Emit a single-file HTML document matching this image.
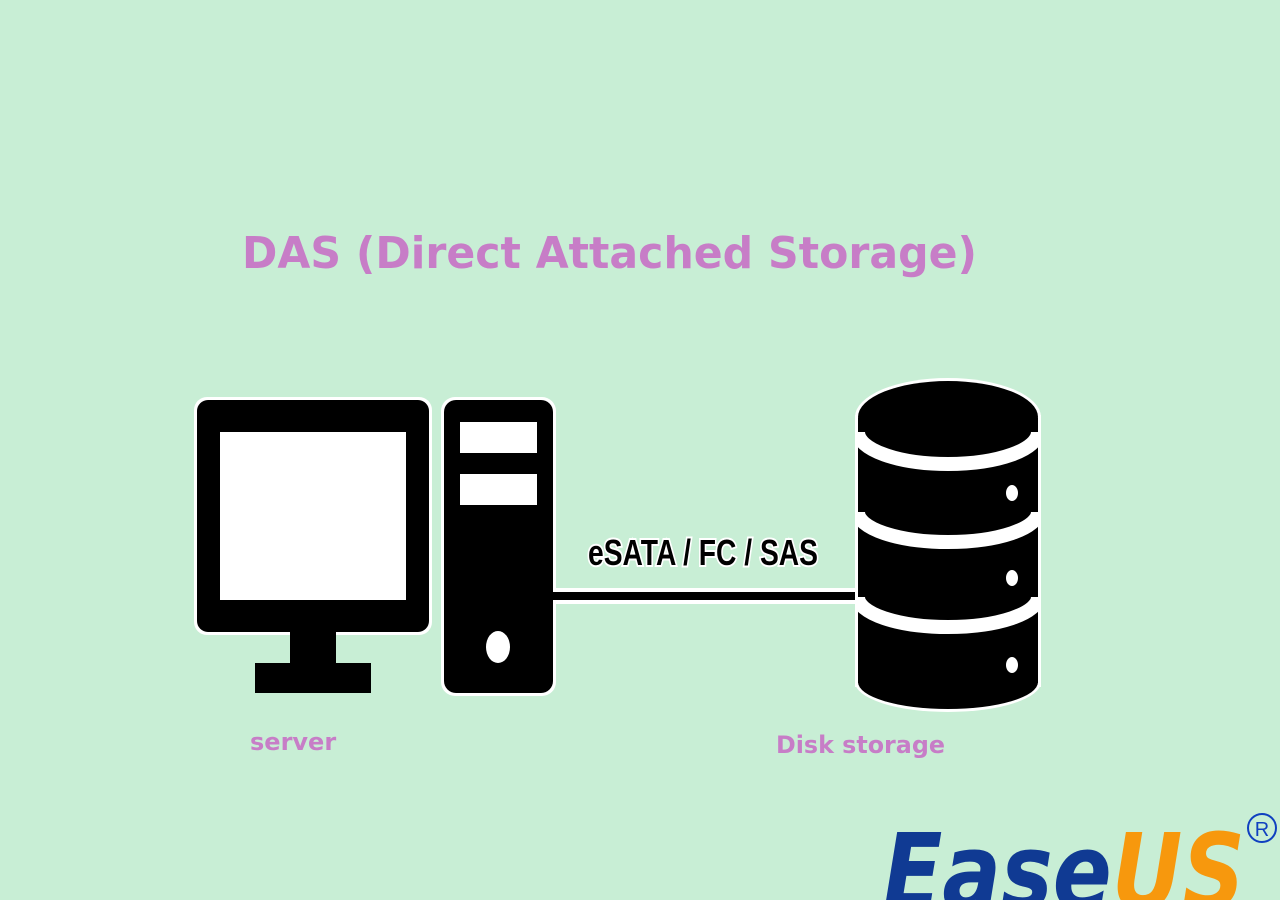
<!DOCTYPE html>
<html><head><meta charset="utf-8"><style>
html,body{margin:0;padding:0;background:#c8eed5;}
svg{display:block}
</style></head><body>
<svg width="1280" height="900" viewBox="0 0 1280 900" xmlns="http://www.w3.org/2000/svg">
<defs><clipPath id="dk"><rect x="858" y="380" width="180" height="330"/></clipPath></defs>
<rect width="1280" height="900" fill="#c8eed5"/>
<text x="242" y="268" font-family="'DejaVu Sans','Liberation Sans',sans-serif" font-weight="bold" font-size="44" fill="#c77dc7" textLength="735" lengthAdjust="spacingAndGlyphs">DAS (Direct Attached Storage)</text>

<!-- monitor -->
<rect x="194" y="397" width="238" height="238" rx="13" fill="#fff"/>
<rect x="197" y="400" width="232" height="232" rx="11" fill="#000"/>
<rect x="220" y="432" width="186" height="168" fill="#fff"/>
<rect x="290" y="630" width="46" height="36" fill="#000"/>
<rect x="255" y="663" width="116" height="30" fill="#000"/>
<!-- tower -->
<rect x="441" y="397" width="115" height="299" rx="14" fill="#fff"/>
<rect x="444" y="400" width="109" height="293" rx="12" fill="#000"/>
<rect x="460" y="422" width="77" height="31" fill="#fff"/>
<rect x="460" y="474" width="77" height="31" fill="#fff"/>
<ellipse cx="498" cy="647" rx="12" ry="16" fill="#fff"/>

<!-- cable -->
<rect x="553" y="588" width="306" height="16" fill="#fff"/>
<rect x="553" y="592" width="306" height="8" fill="#000"/>
<text x="588" y="565" font-family="'Liberation Sans Narrow','Liberation Sans',sans-serif" font-weight="bold" font-size="36" fill="#000" stroke="#fff" stroke-width="4" paint-order="stroke" textLength="230" lengthAdjust="spacingAndGlyphs">eSATA / FC / SAS</text>

<!-- disk -->
<rect x="855" y="415" width="186" height="272" fill="#fff"/>
<ellipse cx="948" cy="417" rx="93" ry="39" fill="#fff"/>
<ellipse cx="948" cy="682" rx="93" ry="30" fill="#fff"/>
<rect x="858" y="418" width="180" height="265" fill="#000"/>
<ellipse cx="948" cy="682" rx="90" ry="27" fill="#000"/>
<ellipse cx="948" cy="417" rx="90" ry="36" fill="#000"/>
<g clip-path="url(#dk)">
<path d="M858,432 A90,32 0 0 0 1038,432" fill="none" stroke="#fff" stroke-width="14"/>
<path d="M858,512 A90,30 0 0 0 1038,512" fill="none" stroke="#fff" stroke-width="14"/>
<path d="M858,597 A90,30 0 0 0 1038,597" fill="none" stroke="#fff" stroke-width="14"/>
</g>
<ellipse cx="1012" cy="493" rx="6" ry="8" fill="#fff"/>
<ellipse cx="1012" cy="578" rx="6" ry="8" fill="#fff"/>
<ellipse cx="1012" cy="665" rx="6" ry="8" fill="#fff"/>

<text x="250" y="750" font-family="'DejaVu Sans','Liberation Sans',sans-serif" font-weight="bold" font-size="24" fill="#c77dc7">server</text>
<text x="776" y="753" font-family="'DejaVu Sans','Liberation Sans',sans-serif" font-weight="bold" font-size="24" fill="#c77dc7" textLength="169" lengthAdjust="spacingAndGlyphs">Disk storage</text>

<text x="883" y="908" font-family="'DejaVu Sans','Liberation Sans',sans-serif" font-weight="bold" font-style="italic" font-size="104" textLength="362" lengthAdjust="spacingAndGlyphs"><tspan fill="#103a93">Ease</tspan><tspan fill="#f7980d">US</tspan></text>
<circle cx="1262" cy="828" r="14" fill="none" stroke="#1040c0" stroke-width="2"/>
<text x="1262" y="836" text-anchor="middle" font-family="'Liberation Sans',sans-serif" font-size="20" fill="#1040c0">R</text>
</svg>
</body></html>
